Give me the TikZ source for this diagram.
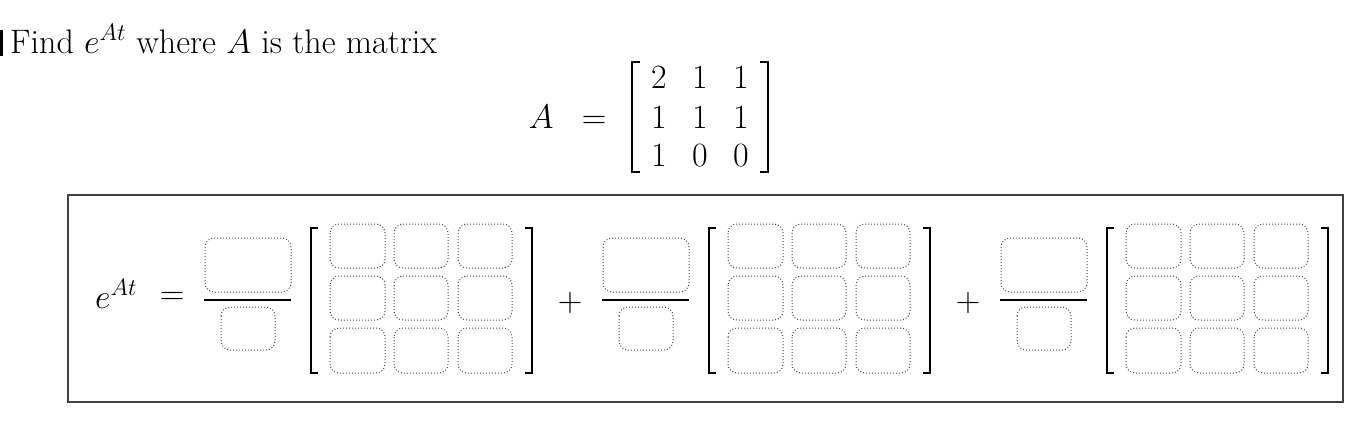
\RequirePackage{fix-cm}
\documentclass[tikz,border=0pt]{standalone}
\usepackage{fontspec}
\begin{document}
\begin{tikzpicture}[x=1pt,y=-1pt,
  every node/.style={inner sep=0pt,font=\fontsize{34}{40}\selectfont},
  slot/.style={draw=black!70,dotted,line width=1pt,rounded corners=9pt},
  brk/.style={line width=2.6pt,line cap=butt},
  thin/.style={line width=1.2pt}]
\useasboundingbox (0,0) rectangle (1372,440);
% title
\fill (0,30) rectangle (2.5,56);
\node[anchor=base west] (title) at (10,53) {Find $e^{At}$ where $A$ is the matrix};
% A = matrix
\node[anchor=base] (Alab) at (541,128) {$A$};
\node[anchor=base] (Aeq) at (594,128) {$=$};
\draw[brk] (640,62) -- (632,62) -- (632,172) -- (640,172);
\draw[brk] (760,62) -- (768,62) -- (768,172) -- (760,172);
\foreach \r/\y in {1/88,2/128,3/166}{
  \foreach \c/\x in {1/659,2/700,3/741}{
    \node[anchor=base] (a\r\c) at (\x,\y) {};
  }
}
\node[anchor=base] at (a11) {2}; \node[anchor=base] at (a12) {1}; \node[anchor=base] at (a13) {1};
\node[anchor=base] at (a21) {1}; \node[anchor=base] at (a22) {1}; \node[anchor=base] at (a23) {1};
\node[anchor=base] at (a31) {1}; \node[anchor=base] at (a32) {0}; \node[anchor=base] at (a33) {0};
% answer box
\draw[line width=1.2pt,black!75] (68,195) rectangle (1343,402);
\node[anchor=base west] (eAt) at (95,308) {$e^{At}$};
\node (eq) at (172,298) {$=$};
\foreach \g/\dx in {1/0,2/398,3/796}{
  \begin{scope}[xshift=\dx]
  \draw[thin] (204,300) -- (291,300);
  \draw[slot] (205,238) rectangle (291,292);
  \draw[slot] (221,307) rectangle (275,350);
  \draw[brk] (318,228) -- (311,228) -- (311,373) -- (318,373);
  \draw[brk] (525,228) -- (532,228) -- (532,373) -- (525,373);
  \foreach \y/\yy in {224/268,276/320,328/373}{
    \foreach \x/\xx in {330/385,394/448,458/512}{
      \draw[slot] (\x,\y) rectangle (\xx,\yy);
    }
  }
  \end{scope}
}
\node (p1) at (570,303) {$+$};
\node (p2) at (968,303) {$+$};
\end{tikzpicture}
\end{document}
